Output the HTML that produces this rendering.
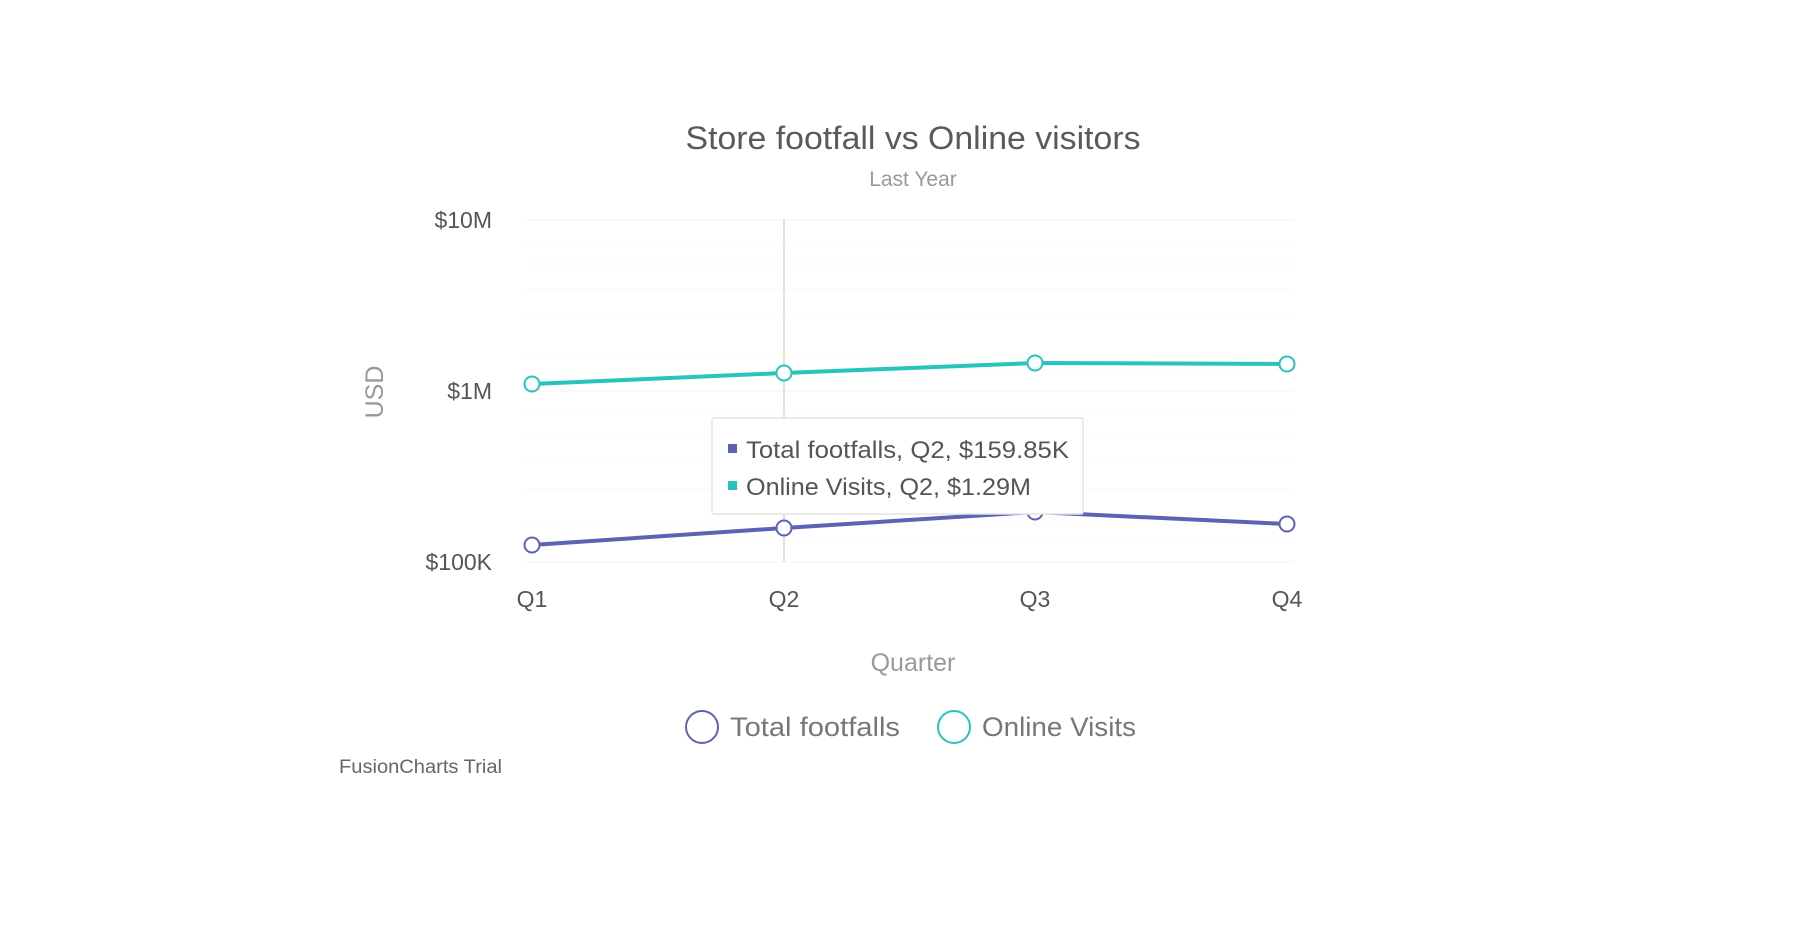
<!DOCTYPE html>
<html><head><meta charset="utf-8"><style>
html,body{margin:0;padding:0;background:#fff;}
svg{display:block;font-family:"Liberation Sans",sans-serif;}
</style></head><body>
<svg width="1818" height="952" viewBox="0 0 1818 952">
<text x="913" y="149" text-anchor="middle" font-size="32" fill="#5a5a5a" textLength="455" lengthAdjust="spacingAndGlyphs">Store footfall vs Online visitors</text>
<text x="913" y="186" text-anchor="middle" font-size="21" fill="#999">Last Year</text>
<g stroke="#f3f3f3" stroke-width="1">
<line x1="525" x2="1294" y1="220" y2="220"/>
<line x1="525" x2="1294" y1="391" y2="391"/>
<line x1="525" x2="1294" y1="562" y2="562"/>
</g>
<g stroke="#fafafa" stroke-width="1">
<line x1="525" x2="1294" y1="242" y2="242"/><line x1="525" x2="1294" y1="264" y2="264"/><line x1="525" x2="1294" y1="289" y2="289"/><line x1="525" x2="1294" y1="318" y2="318"/><line x1="525" x2="1294" y1="354" y2="354"/><line x1="525" x2="1294" y1="370" y2="370"/>
<line x1="525" x2="1294" y1="412" y2="412"/><line x1="525" x2="1294" y1="435" y2="435"/><line x1="525" x2="1294" y1="460" y2="460"/><line x1="525" x2="1294" y1="489" y2="489"/><line x1="525" x2="1294" y1="525" y2="525"/><line x1="525" x2="1294" y1="541" y2="541"/>
</g>
<line x1="784" x2="784" y1="220" y2="562" stroke="#d6d6d6" stroke-width="1.5"/>
<g font-size="23" fill="#555" text-anchor="end">
<text x="492" y="228">$10M</text>
<text x="492" y="399">$1M</text>
<text x="492" y="570">$100K</text>
</g>
<g font-size="23" fill="#555" text-anchor="middle">
<text x="532" y="607">Q1</text><text x="784" y="607">Q2</text><text x="1035" y="607">Q3</text><text x="1287" y="607">Q4</text>
</g>
<text x="913" y="671" text-anchor="middle" font-size="25" fill="#999">Quarter</text>
<text transform="translate(383,392) rotate(-90)" text-anchor="middle" font-size="25" fill="#999">USD</text>
<polyline points="532,384 784,373 1035,363 1287,364" fill="none" stroke="#29c3be" stroke-width="4"/>
<polyline points="532,545 784,528 1035,512 1287,524" fill="none" stroke="#5d62b5" stroke-width="4"/>
<g fill="#fff" stroke-width="2" stroke="#29c3be">
<circle cx="532" cy="384" r="7.5"/><circle cx="784" cy="373" r="7.5"/><circle cx="1035" cy="363" r="7.5"/><circle cx="1287" cy="364" r="7.5"/>
</g>
<g fill="#fff" stroke-width="2" stroke="#5d62b5">
<circle cx="532" cy="545" r="7.5"/><circle cx="784" cy="528" r="7.5"/><circle cx="1035" cy="512" r="7.5"/><circle cx="1287" cy="524" r="7.5"/>
</g>
<rect x="712" y="418" width="371" height="96" rx="2" fill="#fff" stroke="#e3e3e3" stroke-width="1.5"/>
<rect x="728" y="444" width="9" height="9" fill="#5d62b5"/>
<rect x="728" y="481" width="9" height="9" fill="#29c3be"/>
<text x="746" y="458" font-size="24" fill="#555" textLength="323" lengthAdjust="spacingAndGlyphs">Total footfalls, Q2, $159.85K</text>
<text x="746" y="495" font-size="24" fill="#555" textLength="285" lengthAdjust="spacingAndGlyphs">Online Visits, Q2, $1.29M</text>
<circle cx="702" cy="727" r="16" fill="none" stroke="#5d62b5" stroke-width="2"/>
<text x="730" y="736" font-size="27" fill="#777" textLength="170" lengthAdjust="spacingAndGlyphs">Total footfalls</text>
<circle cx="954" cy="727" r="16" fill="none" stroke="#29c3be" stroke-width="2"/>
<text x="982" y="736" font-size="27" fill="#777" textLength="154" lengthAdjust="spacingAndGlyphs">Online Visits</text>
<text x="339" y="773" font-size="19" fill="#666" textLength="163" lengthAdjust="spacingAndGlyphs">FusionCharts Trial</text>
</svg>
</body></html>
